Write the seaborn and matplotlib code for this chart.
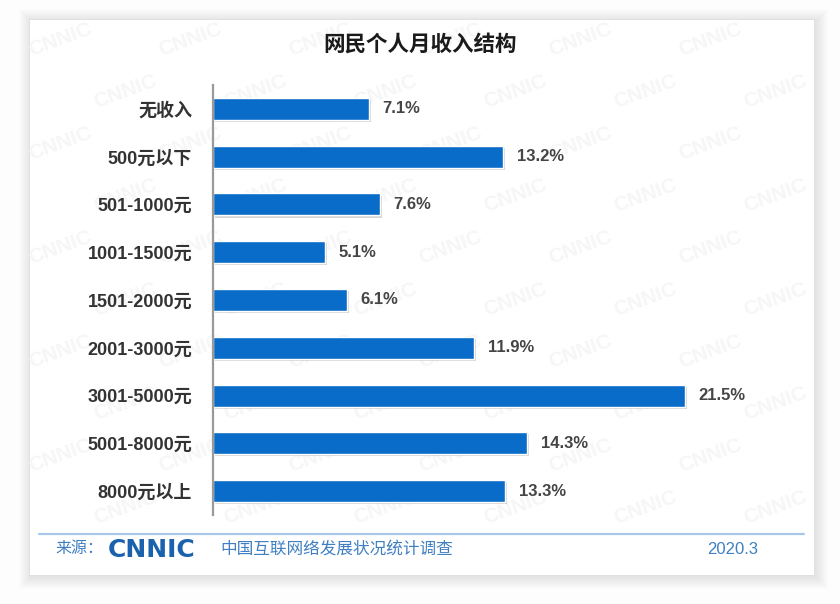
import numpy as np
import pandas as pd
import seaborn as sns
import matplotlib.pyplot as plt
import matplotlib.patheffects as pe
from matplotlib.patches import Rectangle
from matplotlib.lines import Line2D
from matplotlib.ticker import FixedLocator

# data
categories = ['无收入', '500元以下', '501-1000元', '1001-1500元', '1501-2000元',
              '2001-3000元', '3001-5000元', '5001-8000元', '8000元以上']
shares = [7.1, 13.2, 7.6, 5.1, 6.1, 11.9, 21.5, 14.3, 13.3]
value_labels = [f'{v}%' for v in shares]

title = '网民个人月收入结构'
source_label = '来源：'
source_logo = 'CNNIC'
source_name = '中国互联网络发展状况统计调查'
date_label = '2020.3'

data = pd.DataFrame({'category': categories, 'share': shares})

sns.set_style('white')
fonts = ['Liberation Sans', 'Noto Sans CJK SC', 'DejaVu Sans']
plt.rcParams['font.family'] = fonts

W, H = 840, 604
fig = plt.figure(figsize=(W / 100, H / 100), dpi=100)
fig.patch.set_facecolor('#fdfdfd')

# card with soft shadow
cx0, cy0, cx1, cy1 = 29, 19, 814, 575
for i in range(12, 0, -1):
    fig.add_artist(Rectangle(((cx0 - i + 2) / W, (H - cy1 - i - 2) / H),
                             (cx1 - cx0 + 2 * i) / W, (cy1 - cy0 + 2 * i) / H,
                             transform=fig.transFigure, facecolor='#000000',
                             edgecolor='none', alpha=0.008, zorder=0))
fig.add_artist(Rectangle((cx0 / W, (H - cy1) / H), (cx1 - cx0) / W, (cy1 - cy0) / H,
                         transform=fig.transFigure, facecolor='white',
                         edgecolor='#dddddd', linewidth=0.6, zorder=0.5))

# faint CNNIC watermark
for r, yy in enumerate(np.arange(40, 560, 52)):
    for xx in np.arange(60 + (r % 2) * 65, 800, 130):
        fig.text(xx / W, (H - yy) / H, 'CNNIC', fontsize=15, fontweight='bold',
                 color='#f6f6f6', rotation=20, ha='center', va='center', zorder=0.6)

ax = fig.add_axes([213 / W, (H - 515) / H, (800 - 213) / W, (515 - 85) / H])
ax.set_facecolor('none')
ax.set_zorder(2)

sns.barplot(data=data, x='share', y='category', orient='h', color='#0a6cc9',
            width=0.46, saturation=1, ax=ax)
for bar in ax.patches:
    bar.set_path_effects([pe.SimplePatchShadow(offset=(1.5, -1.5), shadow_rgbFace='#9a9a9a',
                                               alpha=0.4), pe.Normal()])

ax.bar_label(ax.containers[0], labels=value_labels, padding=10, fontsize=12,
             fontweight='bold', color='#454545')

ax.set_xlim(0, 26.74)
ax.set_ylim(len(categories) - 0.5, -0.5)
ax.set_xlabel('')
ax.set_ylabel('')
ax.set_xticks([])
for s in ['top', 'right', 'bottom']:
    ax.spines[s].set_visible(False)
ax.spines['left'].set_color('#9a9a9a')
ax.spines['left'].set_linewidth(1.6)
ax.tick_params(axis='y', which='major', length=0, pad=15, labelsize=13,
               labelcolor='#333333')
for t in ax.get_yticklabels():
    t.set_fontweight('bold')
ax.yaxis.set_minor_locator(FixedLocator(np.arange(-0.5, len(categories), 1)))
ax.tick_params(axis='y', which='minor', direction='in', length=4, width=1.2,
               color='#9a9a9a')

fig.text(0.5, (H - 45) / H, title, ha='center', va='center', fontsize=15.5,
         fontweight='bold', color='#1a1a1a', zorder=3)

# footer
fig.add_artist(Line2D([39 / W, 804 / W], [(H - 534) / H] * 2, color='#a9c7e8',
                      linewidth=1.6, zorder=3))
fy = (H - 549) / H
fig.text(55 / W, fy, source_label, ha='left', va='center', fontsize=11.5,
         color='#3f7fc2', zorder=3)
fig.text(108 / W, fy - 0.001, source_logo, ha='left', va='center', fontsize=18,
         fontweight='bold', family='DejaVu Sans', color='#1a62ad', zorder=3)
fig.text(220 / W, fy, source_name, ha='left', va='center', fontsize=12,
         color='#3f7fc2', zorder=3)
fig.text(758 / W, fy, date_label, ha='right', va='center', fontsize=12,
         color='#3f7fc2', zorder=3)

fig.savefig('out.png', dpi=100)
